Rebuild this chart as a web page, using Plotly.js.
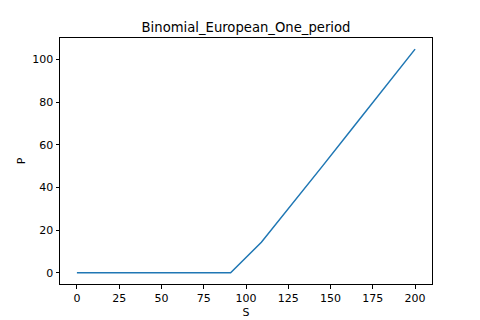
<!DOCTYPE html>
<html>
<head>
<meta charset="utf-8">
<script src="https://cdn.plot.ly/plotly-3.0.1.min.js"></script>
<style>html,body{margin:0;padding:0;background:#fff;}#chart{width:480px;height:320px;}</style>
</head>
<body>
<div id="chart"></div>
<script>
const S = [0, 18.18, 36.36, 54.55, 72.73, 90.91, 109.09, 127.27, 145.45, 163.64, 181.82, 200];
const P = [0, 0, 0, 0, 0, 0, 14.3, 32.0, 50.2, 68.4, 86.6, 104.8];
const xTicks = [0, 25, 50, 75, 100, 125, 150, 175, 200];
const yTicks = [0, 20, 40, 60, 80, 100];

const font = {family: 'DejaVu Sans, sans-serif', size: 11, color: '#000'};
const axisCommon = {
  showgrid: false, zeroline: false, showline: true, mirror: true,
  linecolor: '#000', linewidth: 1, ticks: 'outside', ticklen: 3.5,
  tickwidth: 1, tickcolor: '#000', tickfont: font
};
Plotly.newPlot('chart', [{
  x: S, y: P, type: 'scatter', mode: 'lines',
  line: {color: '#1f77b4', width: 1.5}
}], {
  width: 480, height: 320,
  paper_bgcolor: '#fff', plot_bgcolor: '#fff',
  margin: {l: 60, r: 48, t: 38, b: 36},
  showlegend: false,
  title: {text: 'Binomial_European_One_period', font: {family: 'DejaVu Sans, sans-serif', size: 13.2, color: '#000'}, x: 0.5125, xanchor: 'center', y: 0.915, yanchor: 'middle'},
  xaxis: Object.assign({}, axisCommon, {range: [-10, 210], tickvals: xTicks, ticktext: xTicks.map(String),
    title: {text: 'S', font: font, standoff: 4}}),
  yaxis: Object.assign({}, axisCommon, {range: [-5.24, 110.0], tickvals: yTicks, ticktext: yTicks.map(String),
    title: {text: 'P', font: font, standoff: 4}})
}, {displayModeBar: false, staticPlot: true});
</script>
</body>
</html>
